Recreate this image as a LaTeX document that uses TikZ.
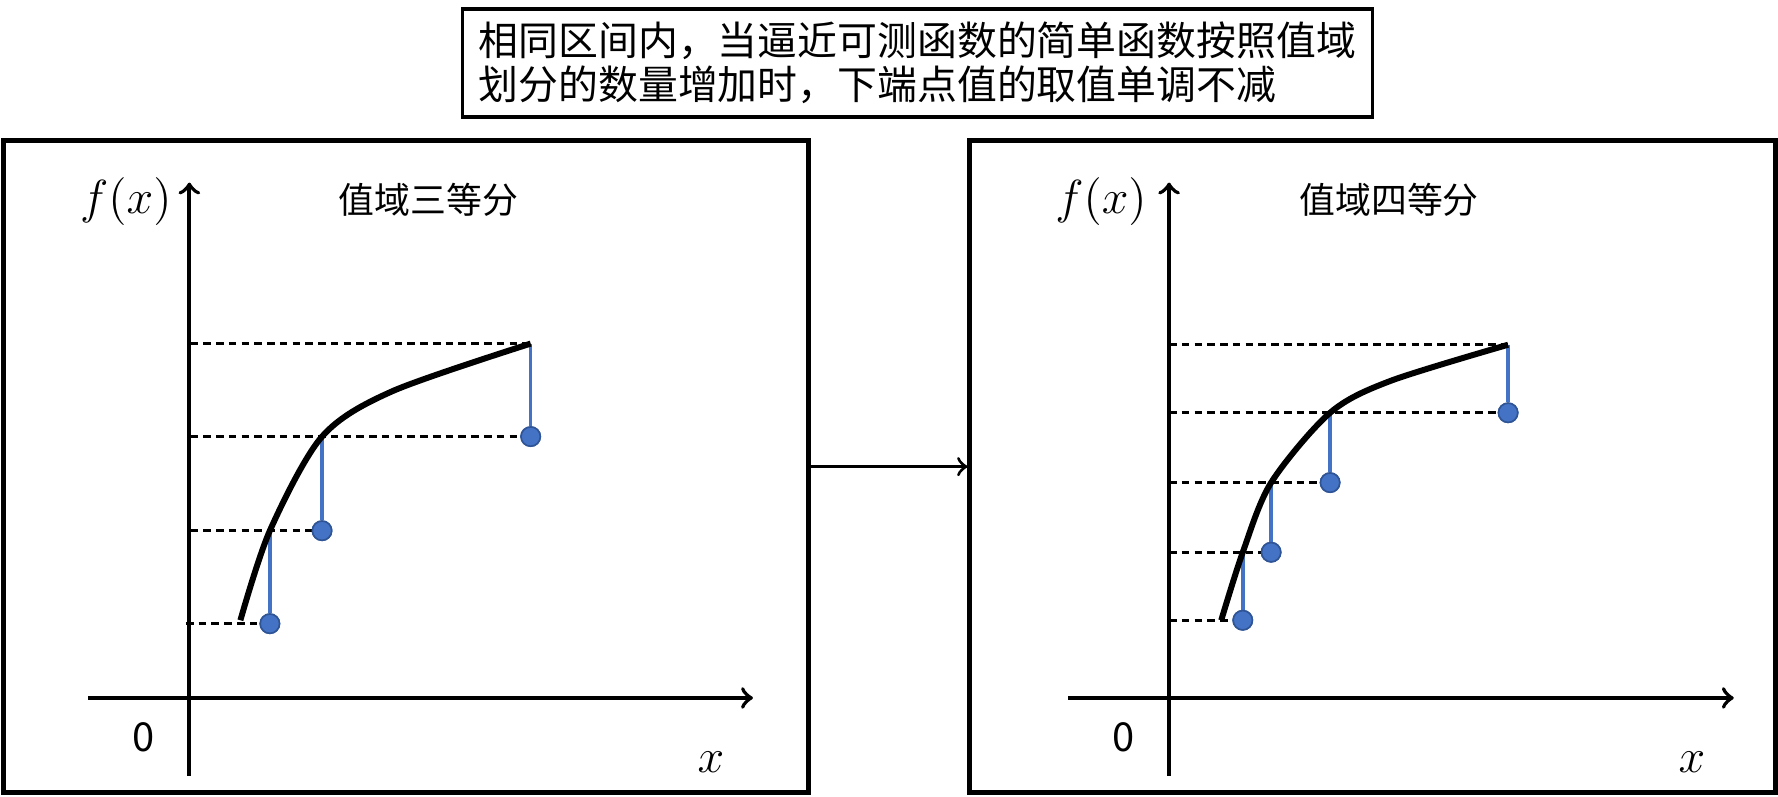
\documentclass[tikz,border=0pt]{standalone}
\usepackage{fontspec}
\newfontfamily\cjk{Noto Sans CJK SC}
\usepackage{tikz}
\definecolor{stemblue}{HTML}{4472C4}
\definecolor{dotedge}{HTML}{2F5597}

\begin{document}
\begin{tikzpicture}[x=0.01cm,y=-0.01cm]
    \tikzstyle{panel}=[draw,line width=1.2pt,minimum width=7.1cm,minimum height=5.75cm,inner sep=0pt]
    \tikzstyle{every node}=[font=\cjk]
    \tikzstyle{guide}=[line width=0.7pt,dash pattern=on 1.9pt off 1.3pt]
    \tikzstyle{stem}=[stemblue,line width=0.9pt]
    \tikzstyle{dot}=[circle,fill=stemblue,draw=dotedge,line width=0.4pt,minimum size=0.17cm,inner sep=0pt]
    \tikzstyle{curve}=[line width=1.5pt]
    \useasboundingbox (0,0) rectangle (1568,702);
    \node[draw,line width=0.8pt,minimum width=8.02cm,minimum height=0.95cm,align=left,
      font=\cjk\fontsize{10pt}{10.9pt}\selectfont] (note) at (809,55.5)
      {相同区间内，当逼近可测函数的简单函数按照值域\\划分的数量增加时，下端点值的取值单调不减};
    \node[panel] (L) at (358,411.5) {};
    \node[panel] (R) at (1210.5,411.5) {};
    \draw[->,line width=0.8pt] (L) -- (R);
    % left: three levels
    \draw[->,line width=1pt] (167,684) -- (167,161);
    \draw[->,line width=1pt] (78,615.5) -- (664,615.5);
    \node (lfx) at (111,178) {\fontsize{11.5pt}{13pt}\selectfont$f(x)$};
    \node (ltitle) at (378,176.5) {\fontsize{9pt}{11pt}\selectfont 值域三等分};
    \node (lzero) at (127,650.5) {\fontsize{10pt}{12pt}\selectfont 0};
    \node (lx) at (627,672) {\fontsize{11.5pt}{13pt}\selectfont$x$};
    \coordinate (la) at (238,468);
    \coordinate (lb) at (284,385);
    \coordinate (lc) at (468,303);
    \node[dot] (l1) at (238,550) {};
    \node[dot] (l2) at (284,468) {};
    \node[dot] (l3) at (468,385) {};
    \draw[guide] (164,550) -- (l1);
    \draw[guide] (168,468) -- (l2);
    \draw[guide] (168,385) -- (l3);
    \draw[guide] (168,303) -- (lc);
    \draw[stem] (la) -- (l1);
    \draw[stem] (lb) -- (l2);
    \draw[stem] (lc) -- (l3);
    \draw[curve] plot[smooth] coordinates {(212,547) (la) (lb) (346,345) (lc)};
    \node[dot] at (l1) {};
    \node[dot] at (l2) {};
    \node[dot] at (l3) {};
    % right: four levels
    \draw[->,line width=1pt] (1031,684) -- (1031,161);
    \draw[->,line width=1pt] (942,615.5) -- (1529,615.5);
    \node (rfx) at (971,178) {\fontsize{11.5pt}{13pt}\selectfont$f(x)$};
    \node (rtitle) at (1225,176.5) {\fontsize{9pt}{11pt}\selectfont 值域四等分};
    \node (rzero) at (990.5,650.5) {\fontsize{10pt}{12pt}\selectfont 0};
    \node (rx) at (1492,672) {\fontsize{11.5pt}{13pt}\selectfont$x$};
    \coordinate (ra) at (1096,487);
    \coordinate (rb) at (1121,425.6);
    \coordinate (rc) at (1173,364);
    \coordinate (rd) at (1330,304);
    \node[dot] (r1) at (1096,547) {};
    \node[dot] (r2) at (1121,487) {};
    \node[dot] (r3) at (1173,425.6) {};
    \node[dot] (r4) at (1330,364) {};
    \draw[guide] (1031,547) -- (r1);
    \draw[guide] (1031,487) -- (r2);
    \draw[guide] (1031,425.6) -- (r3);
    \draw[guide] (1031,364) -- (r4);
    \draw[guide] (1031,304) -- (rd);
    \draw[stem] (ra) -- (r1);
    \draw[stem] (rb) -- (r2);
    \draw[stem] (rc) -- (r3);
    \draw[stem] (rd) -- (r4);
    \draw[curve] plot[smooth] coordinates {(1077,547) (ra) (rb) (rc) (1226,336) (rd)};
    \node[dot] at (r1) {};
    \node[dot] at (r2) {};
    \node[dot] at (r3) {};
    \node[dot] at (r4) {};
\end{tikzpicture}
\end{document}
